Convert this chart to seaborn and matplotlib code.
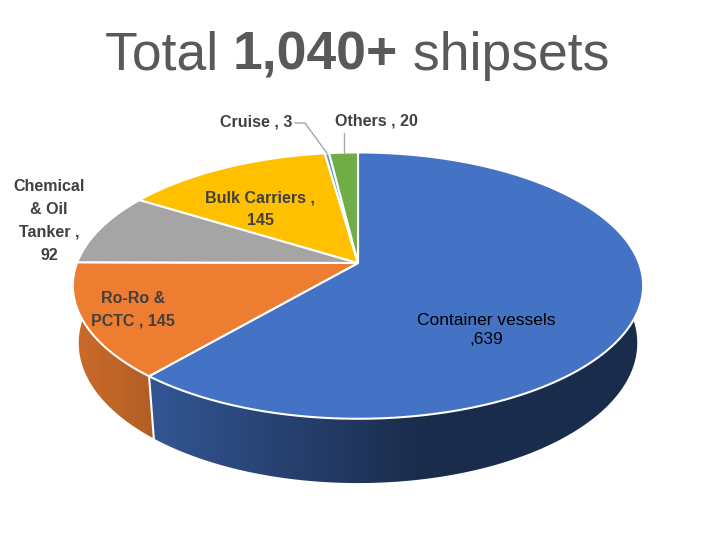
import numpy as np
import matplotlib.pyplot as plt
import seaborn as sns
from matplotlib.colors import to_rgb
from matplotlib.patches import Polygon

categories = ['Container vessels', 'Ro-Ro & PCTC', 'Chemical & Oil Tanker', 'Bulk Carriers', 'Cruise', 'Others']
values = [639, 145, 92, 145, 3, 20]
labels = ['Container vessels\n,639', 'Ro-Ro &\nPCTC , 145', 'Chemical\n& Oil\nTanker ,\n92',
          'Bulk Carriers ,\n145', 'Cruise , 3', 'Others , 20']
colors = ['#4472c4', '#ed7d31', '#a5a5a5', '#ffc000', '#5b9bd5', '#70ad47']

sns.set_theme(style='white')
plt.rcParams['font.family'] = ['Liberation Sans', 'DejaVu Sans']
palette = sns.color_palette(colors)

fig = plt.figure(figsize=(7.17, 5.51), dpi=100)
ax = fig.add_axes([0, 0, 1, 1])
ax.set_xlim(0, 717)
ax.set_ylim(551, 0)
ax.axis('off')

# perspective camera for the tilted disc
cx, cy = 358, 263
tilt = np.radians(27.4)
dist = 5.23
focal = 281 * dist
thick = 0.232


def project(theta, y=0.0):
    X = np.cos(theta)
    Z = np.sin(theta)
    ycam = Z * np.sin(tilt) + y * np.cos(tilt)
    depth = dist + Z * np.cos(tilt) - y * np.sin(tilt)
    return cx + focal * X / depth, cy - focal * ycam / depth


total = sum(values)
cum = np.concatenate([[0], np.cumsum(values)])
starts = np.radians(90 - 360 * cum[:-1] / total)
ends = np.radians(90 - 360 * cum[1:] / total)

# horizontal light falloff on the side wall
xs = np.arange(717)
shade = np.clip(0.85 - 0.45 * (xs - 80) / 330, 0.39, 0.85)

for i in range(len(values)):
    t = np.linspace(starts[i], ends[i], 300)
    t = t[np.sin(t) < 0.3]
    if len(t) < 2:
        continue
    tx, ty = project(t)
    bx, by = project(t, -thick)
    poly = Polygon(np.c_[np.r_[tx, bx[::-1]], np.r_[ty, by[::-1]]], closed=True,
                   fc='none', ec='none', transform=ax.transData)
    ax.add_patch(poly)
    img = np.array(to_rgb(palette[i]))[None, None, :] * shade[None, :, None]
    im = ax.imshow(img, extent=(0, 717, 551, 0), aspect='auto', zorder=1,
                   interpolation='bilinear')
    im.set_clip_path(poly)

ax.set_xlim(0, 717)
ax.set_ylim(551, 0)

# white seams on the front wall
for t in starts:
    if np.sin(t) < 0:
        x1, y1 = project(t)
        x2, y2 = project(t, -thick)
        ax.plot([x1, x2], [y1, y2], color='white', lw=1.5, zorder=2)

# top faces
for i in range(len(values)):
    t = np.linspace(starts[i], ends[i], 200)
    px, py = project(t)
    ax.fill(np.r_[cx, px], np.r_[cy, py], color=palette[i], ec='white', lw=1.5, zorder=3)

# labels
lab_col = '#404040'
ax.text(486, 330, labels[0], ha='center', va='center', fontsize=12.5, color='black',
        linespacing=1.35, zorder=5)
ax.text(133, 310, labels[1], ha='center', va='center', fontsize=11.5, color=lab_col,
        fontweight='bold', linespacing=1.65, zorder=5)
ax.text(49, 221, labels[2], ha='center', va='center', fontsize=11.5, color=lab_col,
        fontweight='bold', linespacing=1.65, zorder=5)
ax.text(260, 209, labels[3], ha='center', va='center', fontsize=11.5, color=lab_col,
        fontweight='bold', linespacing=1.65, zorder=5)
ax.text(292, 122, labels[4], ha='right', va='center', fontsize=11.5, color=lab_col,
        fontweight='bold', zorder=5)
ax.text(335, 121, labels[5], ha='left', va='center', fontsize=11.5, color=lab_col,
        fontweight='bold', zorder=5)

# leader lines
mx, my = project((starts[4] + ends[4]) / 2)
ax.plot([295, 305, mx], [123, 123, my], color='#a6a6a6', lw=1, zorder=4)
ox, oy = project((starts[5] + ends[5]) / 2)
ax.plot([ox, ox], [133, oy], color='#a6a6a6', lw=1, zorder=4)

# title with bold middle part
title_parts = [('Total ', 'normal'), ('1,040+', 'bold'), (' shipsets', 'normal')]
renderer = fig.canvas.get_renderer()
texts = []
for s, w in title_parts:
    texts.append(ax.text(0, 70, s, fontsize=38.5, fontweight=w, color='#595959',
                         ha='left', va='baseline'))
widths = [t.get_window_extent(renderer).width for t in texts]
x = 357 - sum(widths) / 2
for t, w in zip(texts, widths):
    t.set_x(x)
    x += w

fig.savefig('out.png', dpi=100)
